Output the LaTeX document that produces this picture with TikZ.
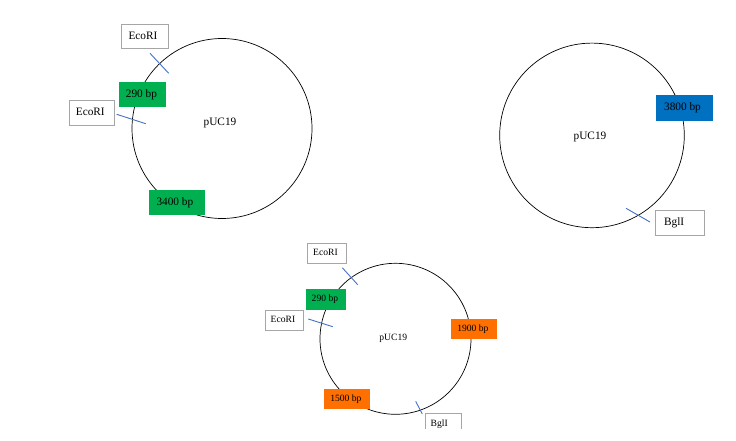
\documentclass[tikz,border=0pt]{standalone}
\usepackage{fontspec}
\setmainfont{Liberation Serif}
\usetikzlibrary{positioning,calc}

\begin{document}
\begin{tikzpicture}[x = 1pt, y = -1pt, semithick]
\tikzstyle{plasmid}=[
  draw = black,
  circle,
  inner sep = 0pt,
  line width = 0.7pt
]
\tikzstyle{site}=[
  draw = black!35,
  line width = 0.9pt,
  fill = white,
  inner sep = 0pt,
  font = \fontsize{11.3}{12}\selectfont,
  text height = 7.5pt,
  text depth = 2pt
]
\tikzstyle{frag}=[
  inner sep = 0pt,
  font = \fontsize{11.3}{12}\selectfont,
  text height = 7.5pt,
  text depth = 2pt
]
\tikzstyle{small}=[
  font = \fontsize{9.6}{11}\selectfont,
  text height = 6.5pt,
  text depth = 2pt
]
\tikzstyle{cut}=[draw = {rgb,255:red,68;green,114;blue,196}, line width = 0.9pt]
\definecolor{fragG}{RGB}{0,176,80}
\definecolor{fragO}{RGB}{255,112,0}
\definecolor{fragB}{RGB}{0,112,192}

\useasboundingbox (0,0) rectangle (736,441);

% upper left
\node[plasmid, minimum size = 180pt] (A) at (222,128.5) {};
\node[frag] (Aname) at (220,123.2) {pUC19};
\node[site, minimum width = 47.4pt, minimum height = 24.6pt] (Ae1) at (145,36.6) {EcoRI\kern4pt};
\node[site, minimum width = 45.6pt, minimum height = 25pt] (Ae2) at (91.8,113.2) {EcoRI\kern3pt};
\node[frag, fill = fragG, minimum width = 47.4pt, minimum height = 24.7pt] (Af1) at (142.4,94.7) {290 bp\kern2pt};
\node[frag, fill = fragG, minimum width = 55.7pt, minimum height = 24.4pt] (Af2) at (176.9,202.5) {3400 bp\kern4pt};
\coordinate (Ac1a) at (150,53.3);
\coordinate (Ac1b) at (168.7,73.3);
\coordinate (Ac2a) at (116.7,114.3);
\coordinate (Ac2b) at (145.7,123.7);
\path[cut] (Ac1a) edge (Ac1b);
\path[cut] (Ac2a) edge (Ac2b);

% upper right
\node[plasmid, minimum size = 184.6pt] (B) at (592,135.4) {};
\node[frag] (Bname) at (590,137.2) {pUC19};
\node[frag, fill = fragB, minimum width = 57pt, minimum height = 25.4pt] (Bf1) at (684.5,108) {3800 bp\kern4pt};
\node[site, minimum width = 49pt, minimum height = 24.6pt] (Bg) at (680.2,223) {BglI\kern12pt};
\coordinate (Bca) at (626,208.3);
\coordinate (Bcb) at (650,222);
\path[cut] (Bca) edge (Bcb);

% bottom
\node[plasmid, minimum size = 151pt] (C) at (395.5,338.8) {};
\node[frag, small] (Cname) at (393.3,337.8) {pUC19};
\node[site, small, minimum width = 39.4pt, minimum height = 20.4pt] (Ce1) at (327,253.5) {EcoRI\kern3pt};
\node[site, small, minimum width = 38.4pt, minimum height = 20.4pt] (Ce2) at (284.5,320.5) {EcoRI\kern3pt};
\node[frag, small, fill = fragG, minimum width = 40.3pt, minimum height = 20.7pt] (Cf1) at (325.9,299.3) {290 bp\kern2pt};
\node[frag, small, fill = fragO, minimum width = 46.3pt, minimum height = 20.6pt] (Cf2) at (473.9,329) {1900 bp\kern2pt};
\node[frag, small, fill = fragO, minimum width = 46.3pt, minimum height = 20.3pt] (Cf3) at (346.9,398.8) {1500 bp\kern2pt};
\begin{scope}
\clip (0,0) rectangle (736,428.3);
\node[site, small, minimum width = 35.7pt, minimum height = 21pt] (Cg) at (443.2,423.8) {BglI\kern8pt};
\end{scope}
\coordinate (Cc1a) at (342.3,267.7);
\coordinate (Cc1b) at (357.7,284.7);
\coordinate (Cc2a) at (308.3,319);
\coordinate (Cc2b) at (332.7,326.7);
\coordinate (Cc3a) at (415.7,401.3);
\coordinate (Cc3b) at (422.3,414);
\path[cut] (Cc1a) edge (Cc1b);
\path[cut] (Cc2a) edge (Cc2b);
\path[cut] (Cc3a) edge (Cc3b);
\end{tikzpicture}
\end{document}
